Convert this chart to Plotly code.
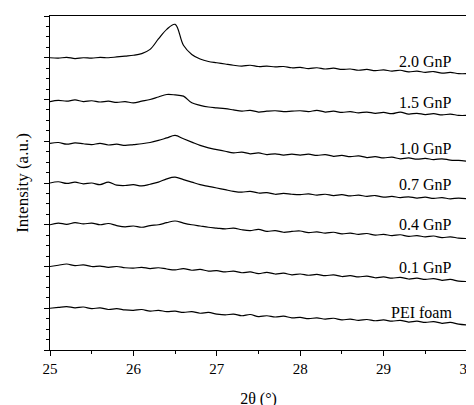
import plotly.graph_objects as go

two_theta = [25.0, 25.1, 25.2, 25.3, 25.4, 25.5, 25.6, 25.7, 25.8, 25.9,
             26.0, 26.1, 26.2, 26.3, 26.4, 26.5, 26.6, 26.7, 26.8, 26.9,
             27.0, 27.1, 27.2, 27.3, 27.4, 27.5, 27.6, 27.7, 27.8, 27.9,
             28.0, 28.1, 28.2, 28.3, 28.4, 28.5, 28.6, 28.7, 28.8, 28.9,
             29.0, 29.1, 29.2, 29.3, 29.4, 29.5, 29.6, 29.7, 29.8, 29.9, 30.0]

pei = [1.00, 1.02, 1.04, 1.01, 1.03, 0.99, 1.01, 0.97, 0.99, 0.96,
       0.95, 0.97, 0.93, 0.95, 0.92, 0.93, 0.90, 0.92, 0.88, 0.90,
       0.86, 0.84, 0.86, 0.82, 0.85, 0.80, 0.82, 0.79, 0.81, 0.77,
       0.78, 0.75, 0.77, 0.74, 0.76, 0.72, 0.74, 0.71, 0.73, 0.70,
       0.72, 0.69, 0.71, 0.67, 0.69, 0.66, 0.68, 0.64, 0.66, 0.62, 0.60]
gnp01 = [2.00, 2.03, 2.06, 2.02, 2.04, 2.00, 2.01, 1.98, 2.00, 1.97,
         1.96, 1.98, 1.95, 1.97, 1.94, 1.92, 1.95, 1.91, 1.93, 1.89,
         1.90, 1.87, 1.89, 1.85, 1.87, 1.83, 1.86, 1.82, 1.84, 1.80,
         1.82, 1.79, 1.81, 1.78, 1.80, 1.76, 1.78, 1.75, 1.77, 1.73,
         1.75, 1.72, 1.74, 1.70, 1.72, 1.69, 1.71, 1.67, 1.69, 1.65, 1.64]
gnp04 = [3.00, 3.04, 3.01, 3.05, 3.02, 3.04, 3.00, 3.03, 2.98, 2.95,
         2.97, 2.94, 2.98, 3.00, 3.05, 3.09, 3.04, 3.00, 2.97, 2.94,
         2.92, 2.90, 2.92, 2.88, 2.86, 2.89, 2.84, 2.86, 2.82, 2.84,
         2.85, 2.81, 2.83, 2.80, 2.82, 2.78, 2.80, 2.77, 2.79, 2.75,
         2.77, 2.74, 2.76, 2.72, 2.74, 2.71, 2.73, 2.69, 2.71, 2.68, 2.67]
gnp07 = [4.00, 4.03, 3.99, 4.02, 3.98, 4.00, 3.96, 4.02, 3.95, 3.94,
         3.96, 3.93, 3.97, 4.02, 4.10, 4.14, 4.08, 4.02, 3.96, 3.92,
         3.88, 3.84, 3.80, 3.78, 3.80, 3.76, 3.77, 3.73, 3.75, 3.73,
         3.72, 3.74, 3.71, 3.73, 3.70, 3.72, 3.69, 3.71, 3.68, 3.70,
         3.66, 3.68, 3.65, 3.67, 3.64, 3.66, 3.63, 3.65, 3.62, 3.64, 3.62]
gnp10 = [4.95, 4.97, 4.93, 4.96, 4.94, 4.92, 4.95, 4.91, 4.93, 4.90,
         4.92, 4.94, 4.97, 5.02, 5.08, 5.14, 5.06, 4.98, 4.90, 4.84,
         4.80, 4.76, 4.72, 4.74, 4.70, 4.72, 4.68, 4.70, 4.67, 4.69,
         4.67, 4.69, 4.66, 4.68, 4.64, 4.66, 4.63, 4.65, 4.61, 4.63,
         4.60, 4.62, 4.58, 4.60, 4.57, 4.59, 4.56, 4.58, 4.55, 4.54, 4.52]
gnp15 = [5.95, 5.98, 5.96, 5.99, 5.95, 5.97, 5.94, 5.96, 5.93, 5.95,
         5.92, 5.96, 6.00, 6.06, 6.12, 6.11, 6.08, 5.92, 5.86, 5.82,
         5.80, 5.78, 5.75, 5.72, 5.74, 5.70, 5.72, 5.73, 5.71, 5.72,
         5.73, 5.71, 5.74, 5.70, 5.72, 5.69, 5.71, 5.68, 5.70, 5.67,
         5.69, 5.66, 5.70, 5.65, 5.67, 5.64, 5.66, 5.63, 5.65, 5.62, 5.62]
gnp20 = [7.00, 6.99, 7.01, 6.98, 7.00, 6.99, 7.01, 7.00, 7.02, 7.04,
         7.06, 7.10, 7.20, 7.45, 7.68, 7.80, 7.30, 7.08, 6.97, 6.91,
         6.88, 6.85, 6.82, 6.80, 6.82, 6.79, 6.80, 6.78, 6.79, 6.76,
         6.77, 6.74, 6.76, 6.73, 6.75, 6.72, 6.73, 6.70, 6.72, 6.69,
         6.71, 6.68, 6.70, 6.66, 6.68, 6.65, 6.67, 6.63, 6.65, 6.62, 6.62]

series = [pei, gnp01, gnp04, gnp07, gnp10, gnp15, gnp20]
labels = ["PEI foam", "0.1 GnP", "0.4 GnP", "0.7 GnP", "1.0 GnP", "1.5 GnP", "2.0 GnP"]
label_y = [0.9, 1.97, 3.0, 3.97, 4.82, 5.92, 6.9]

fig = go.Figure()
for ys in series:
    fig.add_trace(go.Scatter(x=two_theta, y=ys, mode="lines", line_shape="spline",
                             line=dict(color="black", width=1.2), showlegend=False))

for lab, ly in zip(labels, label_y):
    fig.add_annotation(x=29.85, y=ly, text=lab, showarrow=False,
                       xanchor="right", yanchor="middle",
                       font=dict(family="Liberation Serif", size=16, color="black"))

axis_style = dict(showline=True, linecolor="black", linewidth=1.2, mirror=True,
                  showgrid=False, zeroline=False, ticks="outside", ticklen=5,
                  tickcolor="black")

fig.update_xaxes(range=[25, 30], dtick=1, tickfont=dict(size=15),
                 minor=dict(ticks="outside", dtick=0.5, ticklen=3, tickcolor="black"),
                 title=dict(text="2θ (°)", font=dict(size=16), standoff=16),
                 **axis_style)
fig.update_yaxes(range=[0, 8], dtick=1, showticklabels=False,
                 minor=dict(ticks="outside", dtick=0.25, ticklen=3, tickcolor="black"),
                 title=dict(text="Intensity (a.u.)", font=dict(size=17), standoff=10),
                 **axis_style)

fig.update_layout(width=474, height=405, margin=dict(l=42, r=12, t=7, b=63),
                  plot_bgcolor="white", paper_bgcolor="white",
                  font=dict(family="Liberation Serif", color="black"))

fig.write_html("out.html")
